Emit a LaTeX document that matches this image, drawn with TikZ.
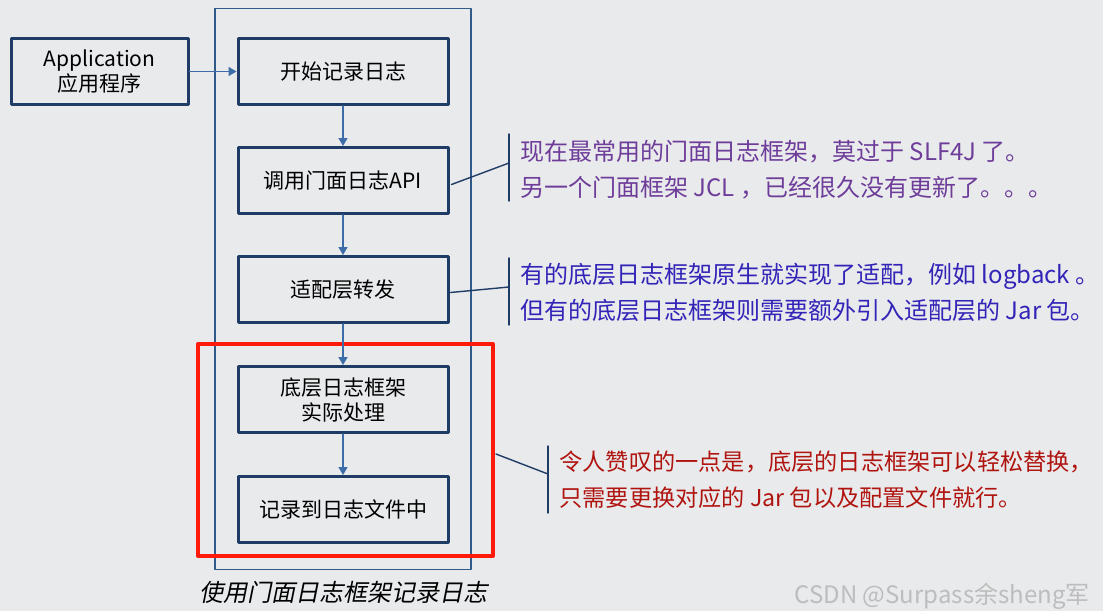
\documentclass[tikz,border=0pt]{standalone}
\usepackage{fontspec}
\setmainfont{Noto Sans CJK SC}
\newfontfamily\slantcjk[FakeSlant=0.2]{Noto Sans CJK SC}
\usepackage{xcolor}
\usetikzlibrary{arrows.meta,positioning}

\definecolor{bgray}{HTML}{E9EAEC}
\definecolor{boxblue}{HTML}{1F3C66}
\definecolor{frameblue}{HTML}{2F5A8A}
\definecolor{arrblue}{HTML}{3D6DA8}
\definecolor{notepurple}{HTML}{6E3D9A}
\definecolor{noteblue}{HTML}{3324B8}
\definecolor{notered}{HTML}{B0140F}
\definecolor{markred}{HTML}{FF1A0A}
\definecolor{wmgray}{HTML}{BDBDBD}

\begin{document}
\begin{tikzpicture}[
		x=0.5pt,
		y=-0.5pt,
		line cap=round,
		line join=round,
		stepbox/.style={
			draw=boxblue,
			line width=1.5pt,
			minimum width=105pt,
			minimum height=33pt,
			align=center,
			font=\fontsize{10.5pt}{12.5pt}\selectfont,
			inner sep=0pt
		},
		flow/.style={
			draw=arrblue,
			line width=0.8pt,
			-{Triangle[length=4pt,width=4.5pt]}
		},
		lead/.style={
			draw=boxblue,
			line width=0.7pt
		},
		note/.style={
			anchor=west,
			align=left,
			inner sep=0pt,
			font=\fontsize{12pt}{18pt}\selectfont
		}
		]
		
		% background
		\fill[bgray] (0,0) rectangle (1103,611);
		\useasboundingbox (0,0) rectangle (1103,611);
		
		% outer frame and red mark
		\node (frame) [draw=frameblue, line width=0.75pt, minimum width=128pt, minimum height=280.5pt, inner sep=0pt] at (342.75,289) {};
		\node (mark) [draw=markred, line width=2pt, minimum width=147.5pt, minimum height=106pt, inner sep=0pt] at (345.5,450) {};
		
		% application
		\node (app) [stepbox, minimum width=88.5pt] at (99.5,71.5) {Application\\应用程序};
		
		% flow steps
		\node (start)  [stepbox] at (343,71.5)  {开始记录日志};
		\node (facade) [stepbox] at (343,180.5) {调用门面日志API};
		\node (adapt)  [stepbox] at (343,289.5) {适配层转发};
		\node (impl)   [stepbox] at (343,399.5) {底层日志框架\\实际处理};
		\node (write)  [stepbox] at (343,509.5) {记录到日志文件中};
		
		% arrows
		\draw[flow] (app) -- (start);
		\draw[flow] (start) -- (facade);
		\draw[flow] (facade) -- (adapt);
		\draw[flow] (adapt) -- (impl);
		\draw[flow] (impl) -- (write);
		
		% caption
		\node (caption) at (343,592) {\slantcjk\fontsize{12pt}{14pt}\selectfont 使用门面日志框架记录日志};
		
		% bracket points
		\coordinate (b1top) at (509,134);
		\coordinate (b1mid) at (509,163);
		\coordinate (b1bot) at (509,201);
		\coordinate (b2top) at (509,258);
		\coordinate (b2mid) at (509,287);
		\coordinate (b2bot) at (509,325);
		\coordinate (b3top) at (548,446);
		\coordinate (b3mid) at (548,474);
		\coordinate (b3bot) at (548,513);
		
		% brackets
		\draw[lead] (b1top) -- (b1bot);
		\draw[lead] (facade.east) ++(2,4) -- (b1mid);
		\draw[lead] (b2top) -- (b2bot);
		\draw[lead] (adapt.east) ++(1,3) -- (b2mid);
		\draw[lead] (b3top) -- (b3bot);
		\draw[lead] (mark.east) ++(1,4) -- (b3mid);
		
		% notes
		\node (note1) [note, text=notepurple] at (520,170) {现在最常用的门面日志框架，莫过于 SLF4J 了。\\另一个门面框架 JCL ，已经很久没有更新了。。。};
		\node (note2) [note, text=noteblue] at (520,292) {有的底层日志框架原生就实现了适配，例如 logback 。\\但有的底层日志框架则需要额外引入适配层的 Jar 包。};
		\node (note3) [note, text=notered, font=\fontsize{11.6pt}{18pt}\selectfont] at (559,480) {令人赞叹的一点是，底层的日志框架可以轻松替换，\\只需要更换对应的 Jar 包以及配置文件就行。};
		
		% watermark
		\node (wm) [anchor=east, text=wmgray, inner sep=0pt, font=\fontsize{12pt}{14pt}\selectfont] at (1090,596) {CSDN @Surpass余sheng军};
	\end{tikzpicture}
\end{document}
